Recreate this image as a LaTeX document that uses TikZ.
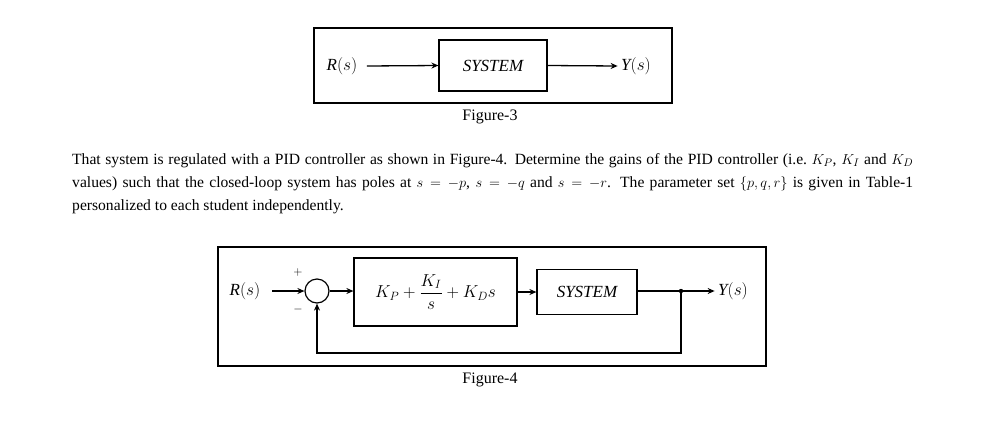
\documentclass[tikz,border=0pt]{standalone}
\usepackage{fontspec}
\setmainfont{Liberation Serif}
\usetikzlibrary{arrows.meta}
\begin{document}
\begin{tikzpicture}[x=1pt,y=-1pt,
  frame/.style={draw,line width=1.6pt},
  blk/.style={draw,line width=1.2pt,inner sep=0pt},
  sig/.style={line width=1.3pt,-{Stealth[length=7pt,width=6pt]}},
  lbl/.style={font=\fontsize{17}{20}\selectfont\itshape},
  figcap/.style={font=\fontsize{16}{19}\selectfont}]
\useasboundingbox (0,0) rectangle (984,421);
\fill[white] (0,0) rectangle (984,421);
% Figure 3
\draw[frame] (314,28) rectangle (672,103);
\node[blk,minimum width=108pt,minimum height=51pt,lbl] (sys3) at (493,65.5) {SYSTEM};
\node[lbl] (r3) at (342,66) {R$(s)$};
\node[lbl] (y3) at (636,66) {Y$(s)$};
\draw[sig] (r3.east)++(6,0) coordinate (a3) -- (sys3.west);
\draw[sig] (sys3.east) -- (y3.west);
\node[figcap] (c3) at (490,117) {Figure-3};
% paragraph
\node[anchor=north west,text width=841pt,align=justify,inner sep=0pt,font=\fontsize{15.6}{23}\selectfont] (par) at (72,153)
{That system is regulated with a PID controller as shown in Figure-4. Determine the gains of the PID controller (i.e.\ $K_P$, $K_I$ and $K_D$ values) such that the closed-loop system has poles at $s=-p$, $s=-q$ and $s=-r$. The parameter set $\{p,q,r\}$ is given in Table-1 personalized to each student independently.};
% Figure 4
\draw[frame] (218,247) rectangle (766,366);
\node[lbl] (r4) at (245,291) {R$(s)$};
\node[draw,circle,line width=1.2pt,minimum size=24pt,inner sep=0pt] (sum) at (317,291) {};
\node[blk,minimum width=163pt,minimum height=68pt,font=\fontsize{17}{20}\selectfont] (pid) at (435.5,292)
 {$\displaystyle K_P+\frac{K_I}{s}+K_D s$};
\node[blk,minimum width=100pt,minimum height=45pt,lbl] (sys4) at (587,292) {SYSTEM};
\coordinate (dot) at (681,291);
\node[lbl] (y4) at (733,291) {Y$(s)$};
\coordinate (fb) at (681,353);
\coordinate (fb2) at (317,353);
\draw[sig] (272,291) coordinate (a4) -- (sum.west);
\draw[sig] (sum.east) -- (pid.west |- sum.east);
\draw[sig] (pid.east |- sys4.west) -- (sys4.west);
\draw[line width=1.3pt] (sys4.east |- dot) -- (dot);
\draw[sig] (dot) -- (y4.west);
\draw[sig] (dot) -- (fb) -- (fb2) -- (sum.south);
\fill (dot) circle (2.2pt);
\node[font=\fontsize{12}{12}\selectfont] (plus) at (298,272) {$+$};
\node[font=\fontsize{12}{12}\selectfont] (minus) at (298,309) {$-$};
\node[figcap] (c4) at (490,380) {Figure-4};
\end{tikzpicture}
\end{document}
